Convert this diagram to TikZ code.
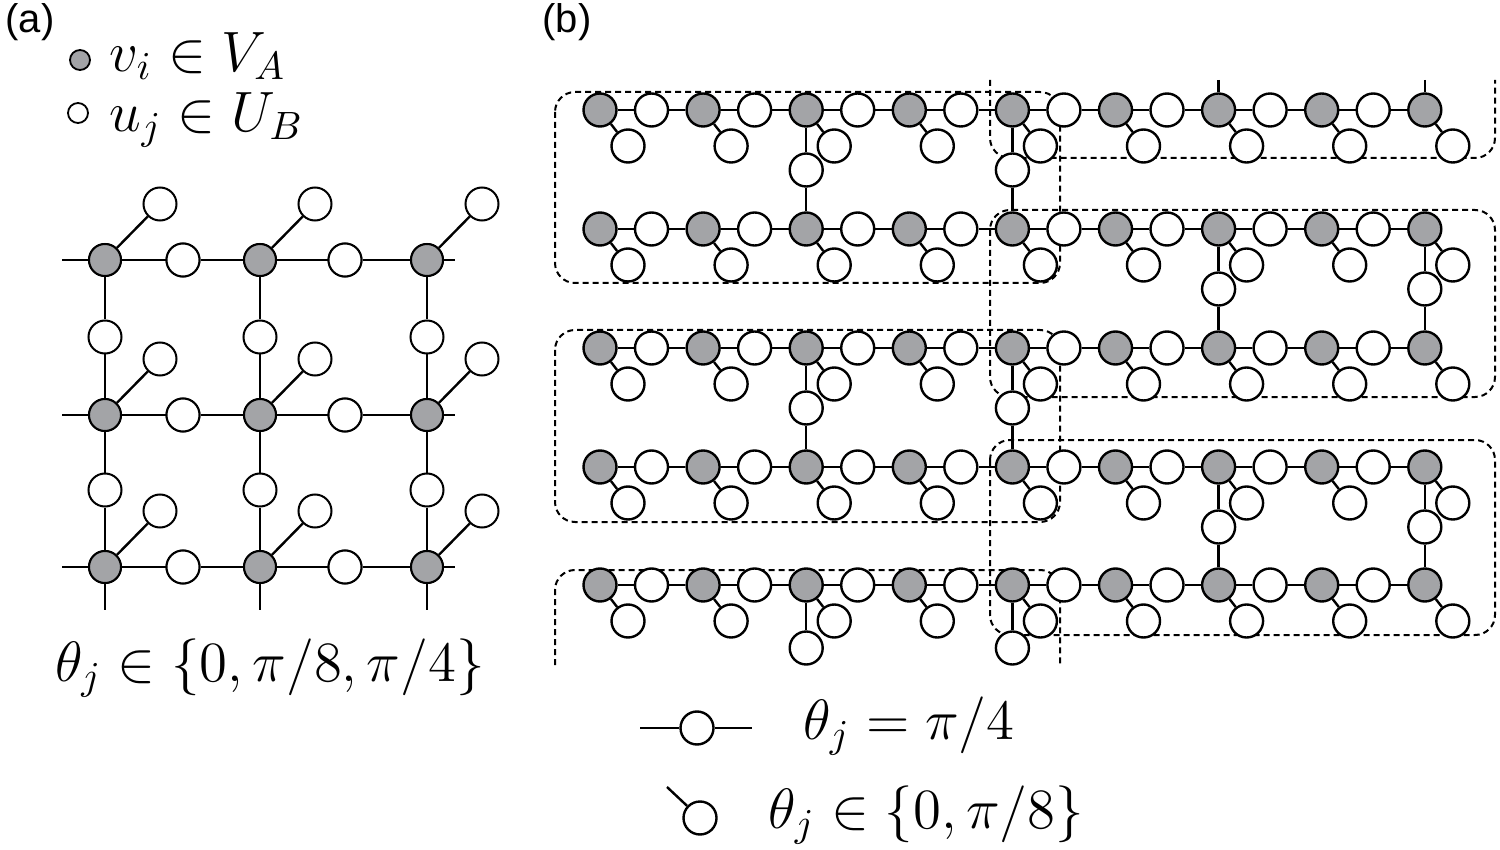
\documentclass[tikz,border=0pt]{standalone}
\usepackage{fontspec}
\newfontfamily\labfont{Liberation Sans}
\definecolor{gfill}{HTML}{A3A4A7}
\tikzset{
 gv/.style={circle,draw,fill=gfill,minimum size=33pt,inner sep=0pt,line width=2.4pt},
 wv/.style={circle,draw,fill=white,minimum size=33pt,inner sep=0pt,line width=2.4pt},
 ga/.style={circle,draw,fill=gfill,minimum size=32pt,inner sep=0pt,line width=2pt},
 wa/.style={circle,draw,fill=white,minimum size=33pt,inner sep=0pt,line width=2pt},
 edge/.style={line width=2.4pt},
 box/.style={line width=2pt,dash pattern=on 6pt off 4pt,rounded corners=20pt},
 big/.style={font=\Large,scale=3.95},
 lab/.style={font=\labfont\fontsize{40}{46}\selectfont}
}
\begin{document}
\begin{tikzpicture}[x=1pt,y=-1pt]
\useasboundingbox (0,0) rectangle (1500,850);
% labels
\node[lab] (la) at (30,22) {(a)};
\node[lab] (lb) at (567,22) {(b)};
% legend a
\node[ga,minimum size=20pt,line width=1.8pt] (lg) at (80,60) {};
\node[big,anchor=west] (lgt) at (96,56) {$v_i\in V_A$};
\node[wa,minimum size=20pt,line width=1.8pt] (lw) at (78,113) {};
\node[big,anchor=west] (lwt) at (96,120) {$u_j\in U_B$};
% panel a
\foreach \i/\y in {1/260,2/415,3/567}{
 \coordinate (L\i) at (62,\y); \coordinate (R\i) at (455,\y);
 \foreach \j/\x in {1/105,2/260,3/427}{
  \node[ga] (a\i\j) at (\x,\y) {};
  \node[wa] (ap\i\j) at (\x+55,\y-56) {};
  \draw[edge] (a\i\j) -- (ap\i\j);
 }
 \node[wa] (ah\i1) at (183,\y) {};
 \node[wa] (ah\i2) at (345,\y) {};
 \draw[edge] (L\i) -- (a\i1) -- (ah\i1) -- (a\i2) -- (ah\i2) -- (a\i3) -- (R\i);
}
\foreach \j/\x in {1/105,2/260,3/427}{
 \coordinate (B\j) at (\x,610);
 \node[wa] (av1\j) at (\x,337) {};
 \node[wa] (av2\j) at (\x,490) {};
 \draw[edge] (a1\j) -- (av1\j) -- (a2\j) -- (av2\j) -- (a3\j) -- (B\j);
}
\foreach \i in {1,2,3}{\foreach \j in {1,2,3}{\node[ga] at (a\i\j) {};}
 \node[wa] at (ah\i1) {}; \node[wa] at (ah\i2) {};}
\node[big] (capa) at (270,668) {$\theta_j\in\{0,\pi/8,\pi/4\}$};
% panel b boxes
\draw[box] (555,92) rectangle (1060,283);
\draw[box] (555,330) rectangle (1060,522);
\draw[box] (555,665) -- (555,570) -- (1060,570) -- (1060,665);
\draw[box] (990,80) -- (990,158) -- (1495,158) -- (1495,80);
\draw[box] (990,210) rectangle (1495,397);
\draw[box] (990,440) rectangle (1495,635);
% panel b lattice
\foreach \r/\y in {1/110,2/229,3/348,4/467,5/585}{
 \foreach \k in {0,...,8}{
  \node[gv] (g\r-\k) at ({600+103.1*\k},\y) {};
  \node[wv] (p\r-\k) at ({628+103.1*\k},{\y+36}) {};
  \draw[edge] (g\r-\k) -- (p\r-\k);
 }
 \foreach \k in {0,...,7}{
  \pgfmathtruncatemacro{\kn}{\k+1}
  \node[wv] (w\r-\k) at ({651.5+103.1*\k},\y) {};
  \draw[edge] (g\r-\k) -- (w\r-\k) -- (g\r-\kn);
 }
}
\foreach \ra/\rb/\y/\ka/\kb in {1/2/170/2/4, 2/3/289/6/8, 3/4/408/2/4, 4/5/527/6/8}{
 \foreach \k in {\ka,\kb}{
  \node[wv] (v\ra-\k) at ({600+103.1*\k},\y) {};
  \draw[edge] (g\ra-\k) -- (v\ra-\k) -- (g\rb-\k);
 }
}
\foreach \k in {2,4}{
 \node[wv] (v5-\k) at ({600+103.1*\k},648) {};
 \draw[edge] (g5-\k) -- (v5-\k);
}
\foreach \k in {6,8}{
 \coordinate (t\k) at ({600+103.1*\k},80);
 \draw[edge] (t\k) -- (g1-\k);
}
% legend b
\coordinate (e1) at (640,728); \coordinate (e2) at (752,728);
\node[wv] (lw1) at (697,728) {};
\draw[edge] (e1) -- (lw1) -- (e2);
\node[big,anchor=west] (lt1) at (790,726) {$\theta_j=\pi/4$};
\coordinate (e3) at (667,787);
\node[wv] (lw2) at (700,818) {};
\draw[edge] (e3) -- (lw2);
\node[big,anchor=west] (lt2) at (755,815) {$\theta_j\in\{0,\pi/8\}$};
\end{tikzpicture}
\end{document}
